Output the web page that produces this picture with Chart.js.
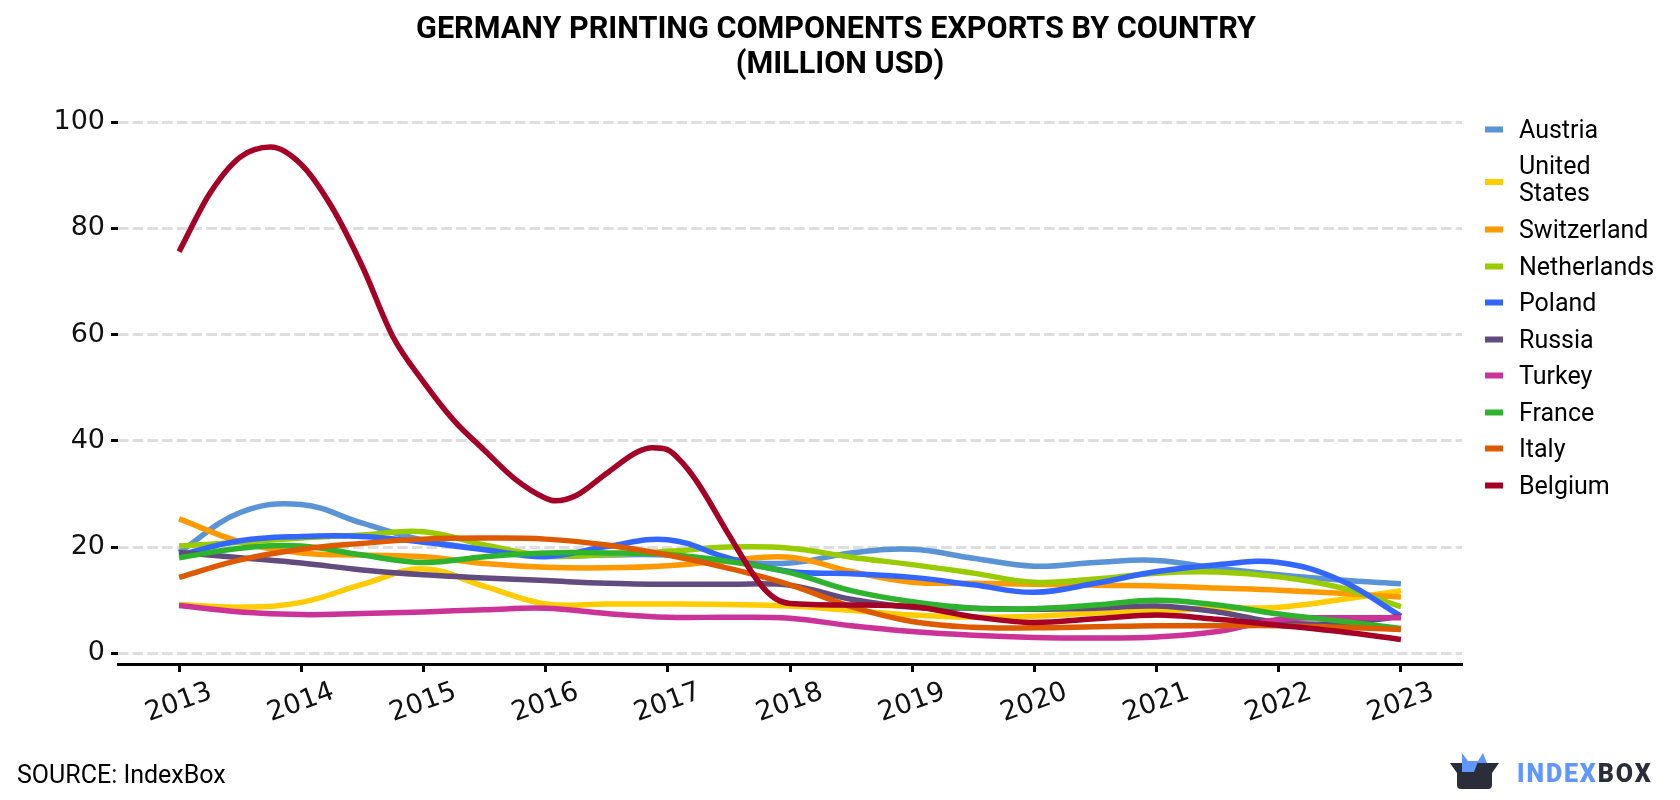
<!DOCTYPE html>
<html>
<head>
<meta charset="utf-8">
<title>Germany Printing Components Exports by Country</title>
<script src="https://cdn.jsdelivr.net/npm/chart.js@4"></script>
<style>
    html, body { margin: 0; padding: 0; background: #fff; }
    #page { position: relative; width: 1680px; height: 800px; overflow: hidden; font-family: Roboto, sans-serif; color: #000; }
    #chart { position: absolute; left: 0; top: 0; }
    #title { position: absolute; left: 0; width: 1672px; top: 10px; text-align: center; font-weight: 700; font-size: 30.6px; line-height: 35px; }
    #title span { position: relative; left: 4px; }
    #legend { position: absolute; left: 1485px; top: 0; font-size: 25px; line-height: 27px; }
    .item { position: absolute; left: 0; white-space: nowrap; transform: translateY(-50%); padding-left: 34px; }
    .swatch { position: absolute; left: 0; top: 50%; width: 18px; height: 6px; margin-top: -3px; }
    #source { position: absolute; left: 17px; top: 761px; font-size: 25px; line-height: 28px; }
    #logo { position: absolute; left: 1450px; top: 750px; }
    #brand { position: absolute; left: 1517px; top: 759px; font-size: 25px; line-height: 30px; font-weight: 900; letter-spacing: 1.9px; color: #5f96ff; }
    #brand span { color: #2b2d3a; }
</style>
</head>
<body>
<div id="page">
    <canvas id="chart" width="1680" height="800"></canvas>
    <div id="title">GERMANY PRINTING COMPONENTS EXPORTS BY COUNTRY<br><span>(MILLION USD)</span></div>
    <div id="legend"></div>
    <div id="source">SOURCE: IndexBox</div>
    <svg id="logo" width="52" height="42" viewBox="0 0 52 42">
        <path fill="#2b2d3a" d="M0 13H49L42 23V35Q42 39 38 39H11Q7 39 7 35V23Z"/>
        <path fill="#5f96ff" d="M12 3L18 11H28L33 3L37 13H27.5L24 22H12Z"/>
    </svg>
    <div id="brand">INDEX<span>BOX</span></div>
</div>

<script>
// Years on the x axis
const years = [2013, 2014, 2015, 2016, 2017, 2018, 2019, 2020, 2021, 2022, 2023];

// Half-year sample positions shared by most series
const sampleYears = [
    2013, 2013.5, 2014, 2014.5, 2015, 2015.5, 2016, 2016.5, 2017, 2017.5, 2018,
    2018.5, 2019, 2019.5, 2020, 2020.5, 2021, 2021.5, 2022, 2022.5, 2023
];

// Belgium moves much faster early on, so it is sampled more often
const belgiumYears = [
    2013, 2013.25, 2013.5, 2013.75, 2014, 2014.25, 2014.5, 2014.75, 2015, 2015.25, 2015.5, 2015.75,
    2016, 2016.08, 2016.25, 2016.5, 2016.75, 2016.875, 2017, 2017.125, 2017.25, 2017.5, 2017.75, 2017.875, 2018,
    2018.5, 2019, 2019.5, 2020, 2020.5, 2021, 2021.5, 2022, 2022.5, 2023
];

// Export values, million USD
const austria = [19.0, 26.5, 28.0, 24.5, 21.3, 19.6, 18.3, 18.5, 18.5, 17.3, 17.0, 18.9, 19.6, 17.9, 16.4, 17.1, 17.5, 16.0, 14.8, 13.8, 13.1];
const unitedStates = [9.2, 8.7, 9.6, 13.0, 15.9, 12.6, 9.3, 9.3, 9.3, 9.2, 8.9, 8.1, 7.2, 6.8, 7.0, 7.6, 8.0, 8.5, 8.7, 10.1, 11.8];
const switzerland = [25.3, 21.0, 18.9, 18.5, 18.2, 16.9, 16.2, 16.1, 16.5, 17.5, 18.1, 15.4, 13.4, 13.2, 13.0, 12.8, 12.7, 12.3, 11.9, 11.3, 10.6];
const netherlands = [20.2, 20.9, 21.7, 22.3, 22.9, 20.4, 18.4, 18.6, 19.2, 20.0, 19.8, 18.1, 16.7, 15.1, 13.4, 14.0, 15.1, 15.3, 14.4, 12.4, 8.8];
const poland = [18.5, 21.2, 22.0, 22.0, 20.9, 19.5, 18.2, 20.1, 21.4, 17.9, 15.4, 15.0, 14.3, 12.9, 11.5, 13.2, 15.4, 16.7, 17.1, 13.8, 7.0];
const russia = [19.0, 18.0, 17.0, 15.7, 14.8, 14.2, 13.7, 13.2, 13.0, 13.0, 12.8, 10.2, 8.7, 8.5, 8.3, 8.5, 8.9, 7.8, 5.8, 5.6, 7.0];
const turkey = [9.0, 7.8, 7.3, 7.5, 7.8, 8.2, 8.5, 7.5, 6.8, 6.8, 6.6, 5.2, 4.1, 3.4, 3.0, 2.9, 3.1, 4.1, 6.4, 6.7, 6.7];
const france = [18.0, 19.8, 20.2, 18.5, 17.1, 18.2, 18.9, 18.9, 18.6, 17.3, 15.2, 11.8, 9.7, 8.5, 8.4, 9.1, 10.0, 9.1, 7.4, 6.1, 4.7];
const italy = [14.3, 17.6, 19.6, 20.7, 21.5, 21.7, 21.5, 20.4, 18.5, 16.0, 12.9, 8.8, 6.0, 4.9, 4.8, 5.0, 5.2, 5.2, 5.2, 4.9, 4.5];
const belgium = [
    75.6, 86.5, 93.4, 95.3, 92.0, 84.0, 72.8, 59.6, 51.1, 43.8, 38.2, 32.8,
    29.2, 28.7, 29.7, 33.9, 37.9, 38.7, 38.3, 35.7, 31.9, 22.3, 13.2, 10.4, 9.4,
    9.1, 8.8, 6.9, 5.8, 6.5, 7.2, 6.4, 5.3, 4.1, 2.6
];

const yTicks = [0, 20, 40, 60, 80, 100];

function points(xs, ys) {
    return xs.map((x, i) => ({ x: x, y: ys[i] }));
}

// Listed in legend order; later series are painted on top of earlier ones
const series = [
    { name: ['Austria'], color: '#5b93d7', data: points(sampleYears, austria), legendY: 129 },
    { name: ['United', 'States'], color: '#ffcc00', data: points(sampleYears, unitedStates), legendY: 179, swatchShift: 3 },
    { name: ['Switzerland'], color: '#ff9900', data: points(sampleYears, switzerland), legendY: 229 },
    { name: ['Netherlands'], color: '#99cc00', data: points(sampleYears, netherlands), legendY: 266 },
    { name: ['Poland'], color: '#3366ff', data: points(sampleYears, poland), legendY: 302 },
    { name: ['Russia'], color: '#624b7f', data: points(sampleYears, russia), legendY: 339 },
    { name: ['Turkey'], color: '#cc3399', data: points(sampleYears, turkey), legendY: 375 },
    { name: ['France'], color: '#2eb32e', data: points(sampleYears, france), legendY: 412 },
    { name: ['Italy'], color: '#de5a00', data: points(sampleYears, italy), legendY: 448 },
    { name: ['Belgium'], color: '#a50026', data: points(belgiumYears, belgium), legendY: 485, monotone: true }
];

const tickFont = { family: '"DejaVu Sans"', size: 27 };

new Chart(document.getElementById('chart'), {
    type: 'line',
    data: {
        datasets: series.map((s, i) => ({
            label: s.name.join(' '),
            data: s.data,
            borderColor: s.color,
            backgroundColor: s.color,
            borderWidth: 5.5,
            borderCapStyle: 'butt',
            borderJoinStyle: 'round',
            pointRadius: 0,
            tension: 0.4,
            cubicInterpolationMode: s.monotone ? 'monotone' : 'default',
            order: series.length - i
        }))
    },
    options: {
        responsive: false,
        animation: false,
        layout: {
            autoPadding: false,
            padding: { left: 0, right: 218, top: 122, bottom: 70 }
        },
        plugins: {
            legend: { display: false },
            title: { display: false },
            tooltip: { enabled: false }
        },
        scales: {
            x: {
                type: 'linear',
                min: 2012.5,
                max: 2023.5,
                afterBuildTicks: scale => { scale.ticks = years.map(y => ({ value: y })); },
                afterFit: scale => { scale.height = 66; },
                grid: { drawOnChartArea: false, drawTicks: true, tickColor: '#000', tickWidth: 3, tickLength: 8 },
                border: { display: true, color: '#000', width: 3 },
                ticks: {
                    autoSkip: false,
                    minRotation: 20,
                    maxRotation: 20,
                    labelOffset: 32,
                    padding: 4,
                    color: '#111',
                    font: tickFont,
                    callback: value => String(value)
                }
            },
            y: {
                min: -2,
                max: 100,
                afterBuildTicks: scale => { scale.ticks = yTicks.map(v => ({ value: v })); },
                afterFit: scale => { scale.width = 118; },
                grid: { color: '#dedede', lineWidth: 3, drawTicks: true, tickColor: '#000', tickWidth: 3, tickLength: 7 },
                border: { display: false, dash: [10.5, 4.2] },
                ticks: { padding: 6, color: '#111', font: tickFont }
            }
        }
    }
});

// Legend sits beside the plot so the two-line entry can centre its swatch
const legend = document.getElementById('legend');
series.forEach(s => {
    const item = document.createElement('div');
    item.className = 'item';
    item.style.top = s.legendY + 'px';
    const shift = s.swatchShift ? `margin-top:${s.swatchShift - 3}px;` : '';
    item.innerHTML = `<span class="swatch" style="background:${s.color};${shift}"></span>${s.name.join('<br>')}`;
    legend.appendChild(item);
});
</script>
</body>
</html>
